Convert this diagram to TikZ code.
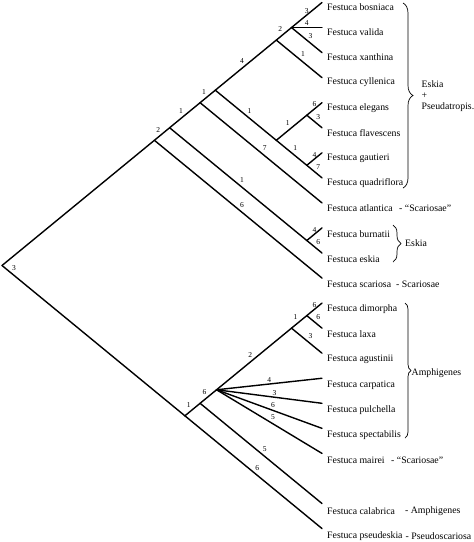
\documentclass[tikz,border=0pt]{standalone}
\usepackage{fontspec}
\setmainfont{Liberation Serif}
\usetikzlibrary{decorations.pathreplacing,calc}
\begin{document}
\begin{tikzpicture}[x=1pt,y=-1pt,
  br/.style={line width=1.4pt, line cap=round, line join=round},
  lbl/.style={font=\fontsize{7.5}{8}\selectfont, inner sep=1.2pt},
  tx/.style={font=\fontsize{9.8}{10.7}\selectfont, anchor=west, inner sep=0pt},
  grp/.style={decorate, decoration={brace, amplitude=#1}, line width=0.7pt},
]
\useasboundingbox (0,0) rectangle (474,542);

% tips and their labels
\foreach \n/\i in {bosniaca/0, valida/1, xanthina/2, cyllenica/3, elegans/4,
  flavescens/5, gautieri/6, quadriflora/7, atlantica/8, burnatii/9, eskia/10,
  scariosa/11, dimorpha/12, laxa/13, agustinii/14, carpatica/15, pulchella/16,
  spectabilis/17, mairei/18, calabrica/20, pseudeskia/21}{
  \coordinate (\n) at (322,{2.5+25.05*\i});
  \node[tx] (L\n) at (327,{7+25.2*\i}) {Festuca \n};
}

% internal nodes
\coordinate (root) at (2,265.5);
\coordinate (A) at (154.4,140.3);
\coordinate (B) at (169.6,127.75);
\coordinate (C) at (200.1,102.7);
\coordinate (D) at (215.3,90.2);
\coordinate (E) at (276.3,40.1);
\coordinate (P) at (291.5,27.55);
\coordinate (G) at (276.3,140.3);
\coordinate (H) at (306.8,115.2);
\coordinate (I) at (306.8,165.3);
\coordinate (F) at (306.8,240.5);
\coordinate (X) at (184.9,415.8);
\coordinate (Y) at (200.1,403.3);
\coordinate (Q) at (291.5,328.15);
\coordinate (R) at (306.8,315.6);
\coordinate (Z) at ($(Y)!0.18!(Q)$);

\node[lbl] (rootlbl) at ($(root)+(12,3)$) {3};

% branches
\draw[br] (root) -- (A);
\draw[br] (root) -- (X);
\draw[br] (A) -- node[lbl,above left]{2} (B);
\draw[br] (B) -- node[lbl,above left]{1} (C);
\draw[br] (C) -- node[lbl,above left]{1} (D);
\draw[br] (D) -- node[lbl,above left]{4} (E);
\draw[br] (E) -- node[lbl,above left]{2} (P);
\draw[br] (P) -- node[lbl,above]{3} (bosniaca);
\draw[br] (P) -- node[lbl,above]{4} (valida);
\draw[br] (P) -- node[lbl,above right]{3} (xanthina);
\draw[br] (E) -- node[lbl,above right]{1} (cyllenica);
\draw[br] (D) -- node[lbl,above right]{1} (G);
\draw[br] (G) -- node[lbl,above left]{1} (H);
\draw[br] (H) -- node[lbl,above]{6} (elegans);
\draw[br] (H) -- node[lbl,above right]{3} (flavescens);
\draw[br] (G) -- node[lbl,above right]{1} (I);
\draw[br] (I) -- node[lbl,above]{4} (gautieri);
\draw[br] (I) -- node[lbl,above right]{7} (quadriflora);
\draw[br] (C) -- node[lbl,above right]{7} (atlantica);
\draw[br] (B) -- node[lbl,above right]{1} (F);
\draw[br] (F) -- node[lbl,above]{4} (burnatii);
\draw[br] (F) -- node[lbl,above right]{6} (eskia);
\draw[br] (A) -- node[lbl,above right]{6} (scariosa);
\draw[br] (X) -- node[lbl,above left]{1} (Y);
\draw[br] (X) -- node[lbl,above right]{6} (pseudeskia);
\draw[br] (Y) -- node[lbl,above left]{6} (Z);
\draw[br] (Y) -- node[lbl,above right]{5} (calabrica);
\draw[br] (Z) -- node[lbl,above left]{2} (Q);
\draw[br] (Q) -- node[lbl,above left]{1} (R);
\draw[br] (R) -- node[lbl,above]{6} (dimorpha);
\draw[br] (R) -- node[lbl,above right]{6} (laxa);
\draw[br] (Q) -- node[lbl,above right]{3} (agustinii);
\draw[br] (Z) -- node[lbl,above]{4} (carpatica);
\draw[br] (Z) -- node[lbl,above,pos=0.55]{3} (pulchella);
\draw[br] (Z) -- node[lbl,above right]{6} (spectabilis);
\draw[br] (Z) -- node[lbl,above right]{5} (mairei);

% groups
\coordinate (b1t) at (403,3);   \coordinate (b1b) at (403,188);
\coordinate (b2t) at (393,225); \coordinate (b2b) at (393,262);
\coordinate (b3t) at (405,303); \coordinate (b3b) at (405,438);
\draw[grp=10pt] (b1t) -- (b1b);
\draw[grp=8pt] (b2t) -- (b2b);
\draw[grp=6pt] (b3t) -- (b3b);
\node[tx,align=left] (g1) at (421.5,96) {Eskia\\+\\Pseudatropis.};
\node[tx] (g2) at (405,243) {Eskia};
\node[tx] (g3) at (411.5,373) {Amphigenes};

\node[tx] (n1) at (399,208.6) {- “Scariosae”};
\node[tx] (n2) at (396,284.2) {- Scariosae};
\node[tx] (n3) at (391,460.6) {- “Scariosae”};
\node[tx] (n4) at (405,511) {- Amphigenes};
\node[tx] (n5) at (405.5,536.2) {- Pseudoscariosa};
\end{tikzpicture}
\end{document}
